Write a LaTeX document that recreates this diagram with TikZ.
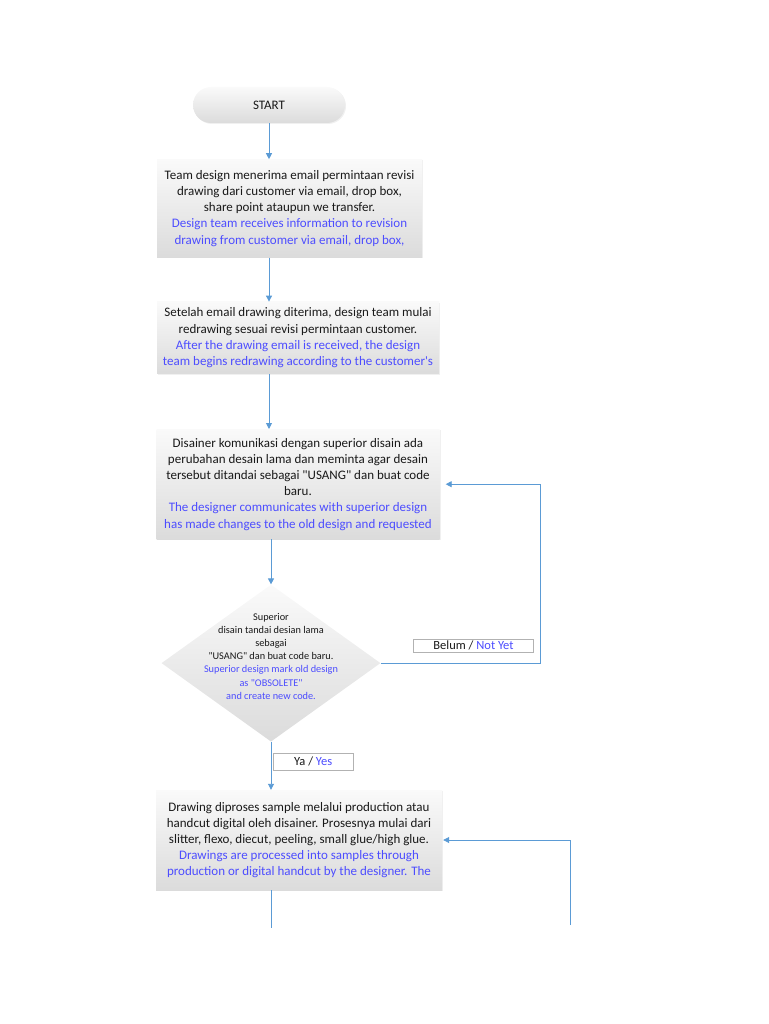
\documentclass[tikz,border=0pt]{standalone}
\usepackage{fontspec}
\setmainfont{Carlito}[Ligatures=TeXOff]
\usetikzlibrary{positioning}
\usetikzlibrary{arrows.meta}
\usetikzlibrary{shapes.geometric}
\usetikzlibrary{shadows}

\definecolor{flowblue}{RGB}{91,155,213}
\definecolor{engblue}{RGB}{77,77,255}
\definecolor{idtext}{RGB}{25,25,25}
\newcommand{\en}[1]{\textcolor{engblue}{#1}}

\tikzset{
  process/.style={rectangle, top color=gray!4, bottom color=gray!28, draw=none,
    drop shadow={opacity=0.12, shadow xshift=1pt, shadow yshift=-1pt},
    align=center, text=idtext, inner sep=0pt, font=\fontsize{13}{16.2}\selectfont},
  terminal/.style={process, rounded corners=18pt},
  decision/.style={diamond, top color=gray!4, bottom color=gray!28, draw=none, inner sep=0pt},
  tag/.style={rectangle, draw=gray!60, fill=white, inner sep=0pt, text=idtext,
    font=\fontsize{12.5}{14}\selectfont},
  flow/.style={draw=flowblue, line width=0.9pt, -{Triangle[length=6pt, width=6pt]}},
  link/.style={draw=flowblue, line width=0.9pt},
}

\begin{document}
\begin{tikzpicture}[x=1pt, y=1pt]
    \useasboundingbox (0,0) rectangle (768,-1024);

    % start
    \node[terminal, minimum width=152, minimum height=36] (start) at (269,-105) {START};

    % 1st step: mail in
    \node[process, minimum width=265, minimum height=98, below=36pt of start, xshift=20.5pt] (mail)
      {Team design menerima email permintaan revisi\\
       drawing dari customer via email, drop box,\\
       share point ataupun we transfer.\\
       \en{Design team receives information to revision}\\
       \en{drawing from customer via email, drop box,}};
    \draw[flow] (start) -- (start |- mail.north);

    % 2nd step: redraw
    \node[process, minimum width=282, minimum height=72, below=44pt of mail, xshift=8.5pt] (redraw)
      {Setelah email drawing diterima, design team mulai\\
       redrawing sesuai revisi permintaan customer.\\
       \en{After the drawing email is received, the design}\\
       \en{team begins redrawing according to the customer's}};
    \draw[flow] (mail.south -| start) -- (redraw.north -| start);

    % 3rd step: talk to superior
    \node[process, minimum width=283, minimum height=110, below=55pt of redraw] (talk)
      {Disainer komunikasi dengan superior disain ada\\
       perubahan desain lama dan meminta agar desain\\
       tersebut ditandai sebagai "USANG" dan buat code\\
       baru.\\
       \en{The designer communicates with superior design}\\
       \en{has made changes to the old design and requested}};
    \draw[flow] (redraw.south -| start) -- (talk.north -| start);

    % decision
    \node[decision, minimum width=219, minimum height=157, below=45pt of talk, xshift=-27pt] (check) {};
    \node[align=center, text=idtext, inner sep=0pt, font=\fontsize{10.3}{13.2}\selectfont] (check-text) at ([yshift=7pt]check.center)
      {Superior\\
       disain tandai desian lama\\
       sebagai\\
       "USANG" dan buat code baru.\\
       \en{Superior design mark old design}\\
       \en{as "OBSOLETE"}\\
       \en{and create new code.}};
    \draw[flow] (talk.south -| check) -- (check.north);

    % not yet: back to superior
    \draw[flow] (check.east) -- ++(160,0) coordinate (back) |- ([xshift=6pt]talk.east);
    \node[tag, minimum width=120, minimum height=13, above left=11pt and 7pt of back] (notyet) {Belum / \en{Not Yet}};

    % yes: sample
    \node[process, minimum width=286, minimum height=100, below=48pt of check, xshift=28pt] (sample)
      {Drawing diproses sample melalui production atau\\
       handcut digital oleh disainer. Prosesnya mulai dari\\
       slitter, flexo, diecut, peeling, small glue/high glue.\\
       \en{Drawings are processed into samples through}\\
       \en{production or digital handcut by the designer. The}};
    \draw[flow] (check.south) -- (check.south |- sample.north);
    \node[tag, minimum width=80, minimum height=17, anchor=west] (yes) at ([xshift=2pt, yshift=-20pt]check.south) {Ya / \en{Yes}};

    % continues on next page
    \coordinate (down) at ([yshift=-38pt]sample.south -| check);
    \coordinate (up) at (570,-925);
    \draw[link] (sample.south -| check) -- (down);
    \draw[flow] (up) |- ([xshift=1pt]sample.east);

\end{tikzpicture}
\end{document}
